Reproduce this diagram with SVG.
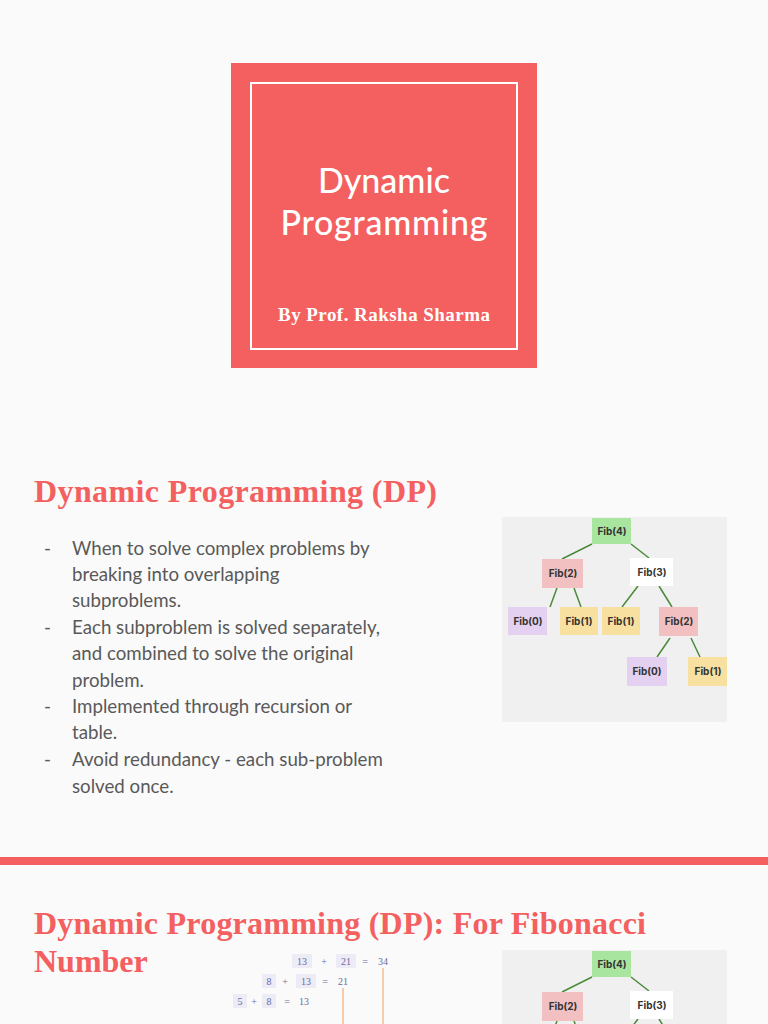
<svg xmlns="http://www.w3.org/2000/svg" width="768" height="1024" viewBox="0 0 768 1024">
<style>
.h{font-family:"Liberation Serif",serif;font-weight:bold;font-size:32px;fill:#f45f5f}
.b{font-family:Lato,"Liberation Sans",sans-serif;font-size:18.7px;fill:#595959}
.n{font-family:Inter,"Liberation Sans",sans-serif;font-weight:bold;font-size:10px;fill:#333;text-anchor:middle}
.e{stroke:#4a8a3a;stroke-width:1.5}
.t{font-family:"Liberation Serif",serif;font-size:10px;fill:#6a6aa0;text-anchor:middle}
</style>
<defs>
<g id="tree">
<rect x="0" y="0" width="225" height="205" fill="#f0f0f0"/>
<g class="e">
<line x1="90" y1="27" x2="60" y2="42"/><line x1="129" y1="27" x2="147" y2="41"/>
<line x1="55" y1="71" x2="48" y2="90"/><line x1="72" y1="71" x2="79" y2="90"/>
<line x1="136" y1="69" x2="120" y2="90"/><line x1="157" y1="69" x2="170" y2="90"/>
<line x1="168" y1="121" x2="155" y2="140"/><line x1="189" y1="121" x2="198" y2="140"/>
</g>
<rect x="90" y="1" width="39" height="26" fill="#a8e6a0"/><text class="n" x="110" y="18">Fib(4)</text>
<rect x="40" y="42" width="41" height="29" fill="#f2c0c0"/><text class="n" x="61" y="60">Fib(2)</text>
<rect x="128" y="41" width="43" height="28" fill="#fff"/><text class="n" x="150" y="59" font-weight="normal">Fib(3)</text>
<rect x="6" y="90" width="39" height="28" fill="#e4d0f0"/><text class="n" x="26" y="108">Fib(0)</text>
<rect x="58" y="90" width="38" height="28" fill="#f8e0a0"/><text class="n" x="77" y="108">Fib(1)</text>
<rect x="100" y="90" width="38" height="28" fill="#f8e0a0"/><text class="n" x="119" y="108">Fib(1)</text>
<rect x="157" y="90" width="39" height="29" fill="#f2c0c0"/><text class="n" x="177" y="108">Fib(2)</text>
<rect x="125" y="140" width="40" height="29" fill="#e4d0f0"/><text class="n" x="145" y="158">Fib(0)</text>
<rect x="186" y="140" width="39" height="29" fill="#f8e0a0"/><text class="n" x="206" y="158">Fib(1)</text>
</g>
</defs>
<rect width="768" height="1024" fill="#fafafa"/>
<g id="title">
<rect x="231" y="63" width="306" height="305" fill="#f45f5f"/>
<rect x="251" y="83" width="266" height="266" fill="none" stroke="#fff" stroke-width="2"/>
<text x="384" y="193" text-anchor="middle" font-family="Lato,'Liberation Sans',sans-serif" font-size="34" font-weight="500" fill="#fff">Dynamic</text>
<text x="384" y="235" text-anchor="middle" font-family="Lato,'Liberation Sans',sans-serif" font-size="34" font-weight="500" fill="#fff" textLength="207">Programming</text>
<text x="384" y="321" text-anchor="middle" font-family="'Liberation Serif',serif" font-weight="bold" font-size="19" fill="#fff" textLength="212">By Prof. Raksha Sharma</text>
</g>
<g id="slide2">
<text class="h" x="34" y="502" textLength="403">Dynamic Programming (DP)</text>
<g class="b">
<text x="44" y="555">-</text><text x="72" y="555">When to solve complex problems by</text>
<text x="72" y="581">breaking into overlapping</text>
<text x="72" y="607">subproblems.</text>
<text x="44" y="634">-</text><text x="72" y="634">Each subproblem is solved separately,</text>
<text x="72" y="660">and combined to solve the original</text>
<text x="72" y="687">problem.</text>
<text x="44" y="713">-</text><text x="72" y="713">Implemented through recursion or</text>
<text x="72" y="739">table.</text>
<text x="44" y="766">-</text><text x="72" y="766">Avoid redundancy - each sub-problem</text>
<text x="72" y="793">solved once.</text>
</g>
<use id="tree1" href="#tree" x="502" y="517"/>
</g>
<rect x="0" y="857" width="768" height="8" fill="#f45f5f"/>
<g id="slide3">
<text class="h" x="34" y="934" textLength="612">Dynamic Programming (DP): For Fibonacci</text>
<text class="h" x="34" y="972">Number</text>
<g id="table">
<rect x="292" y="954" width="20" height="14" fill="#ecebf6"/><rect x="336" y="954" width="20" height="14" fill="#ecebf6"/>
<rect x="262" y="974" width="14" height="14" fill="#ecebf6"/><rect x="296" y="974" width="20" height="14" fill="#ecebf6"/>
<rect x="233" y="994" width="14" height="14" fill="#ecebf6"/><rect x="262" y="994" width="14" height="14" fill="#ecebf6"/>
<line x1="383" y1="968" x2="383" y2="1024" stroke="#f0a060"/>
<line x1="343" y1="988" x2="343" y2="1024" stroke="#f0a060"/>
<text class="t" x="302" y="965">13</text><text class="t" x="324" y="965">+</text><text class="t" x="346" y="965">21</text><text class="t" x="365" y="965">=</text><text class="t" x="383" y="965" fill="#f0a060">34</text>
<text class="t" x="269" y="985">8</text><text class="t" x="285" y="985">+</text><text class="t" x="306" y="985">13</text><text class="t" x="325" y="985">=</text><text class="t" x="343" y="985" fill="#f0a060">21</text>
<text class="t" x="240" y="1005">5</text><text class="t" x="254" y="1005">+</text><text class="t" x="269" y="1005">8</text><text class="t" x="287" y="1005">=</text><text class="t" x="304" y="1005" fill="#f0a060">13</text>
</g>
<use id="tree2" href="#tree" x="502" y="950"/>
</g>
</svg>
